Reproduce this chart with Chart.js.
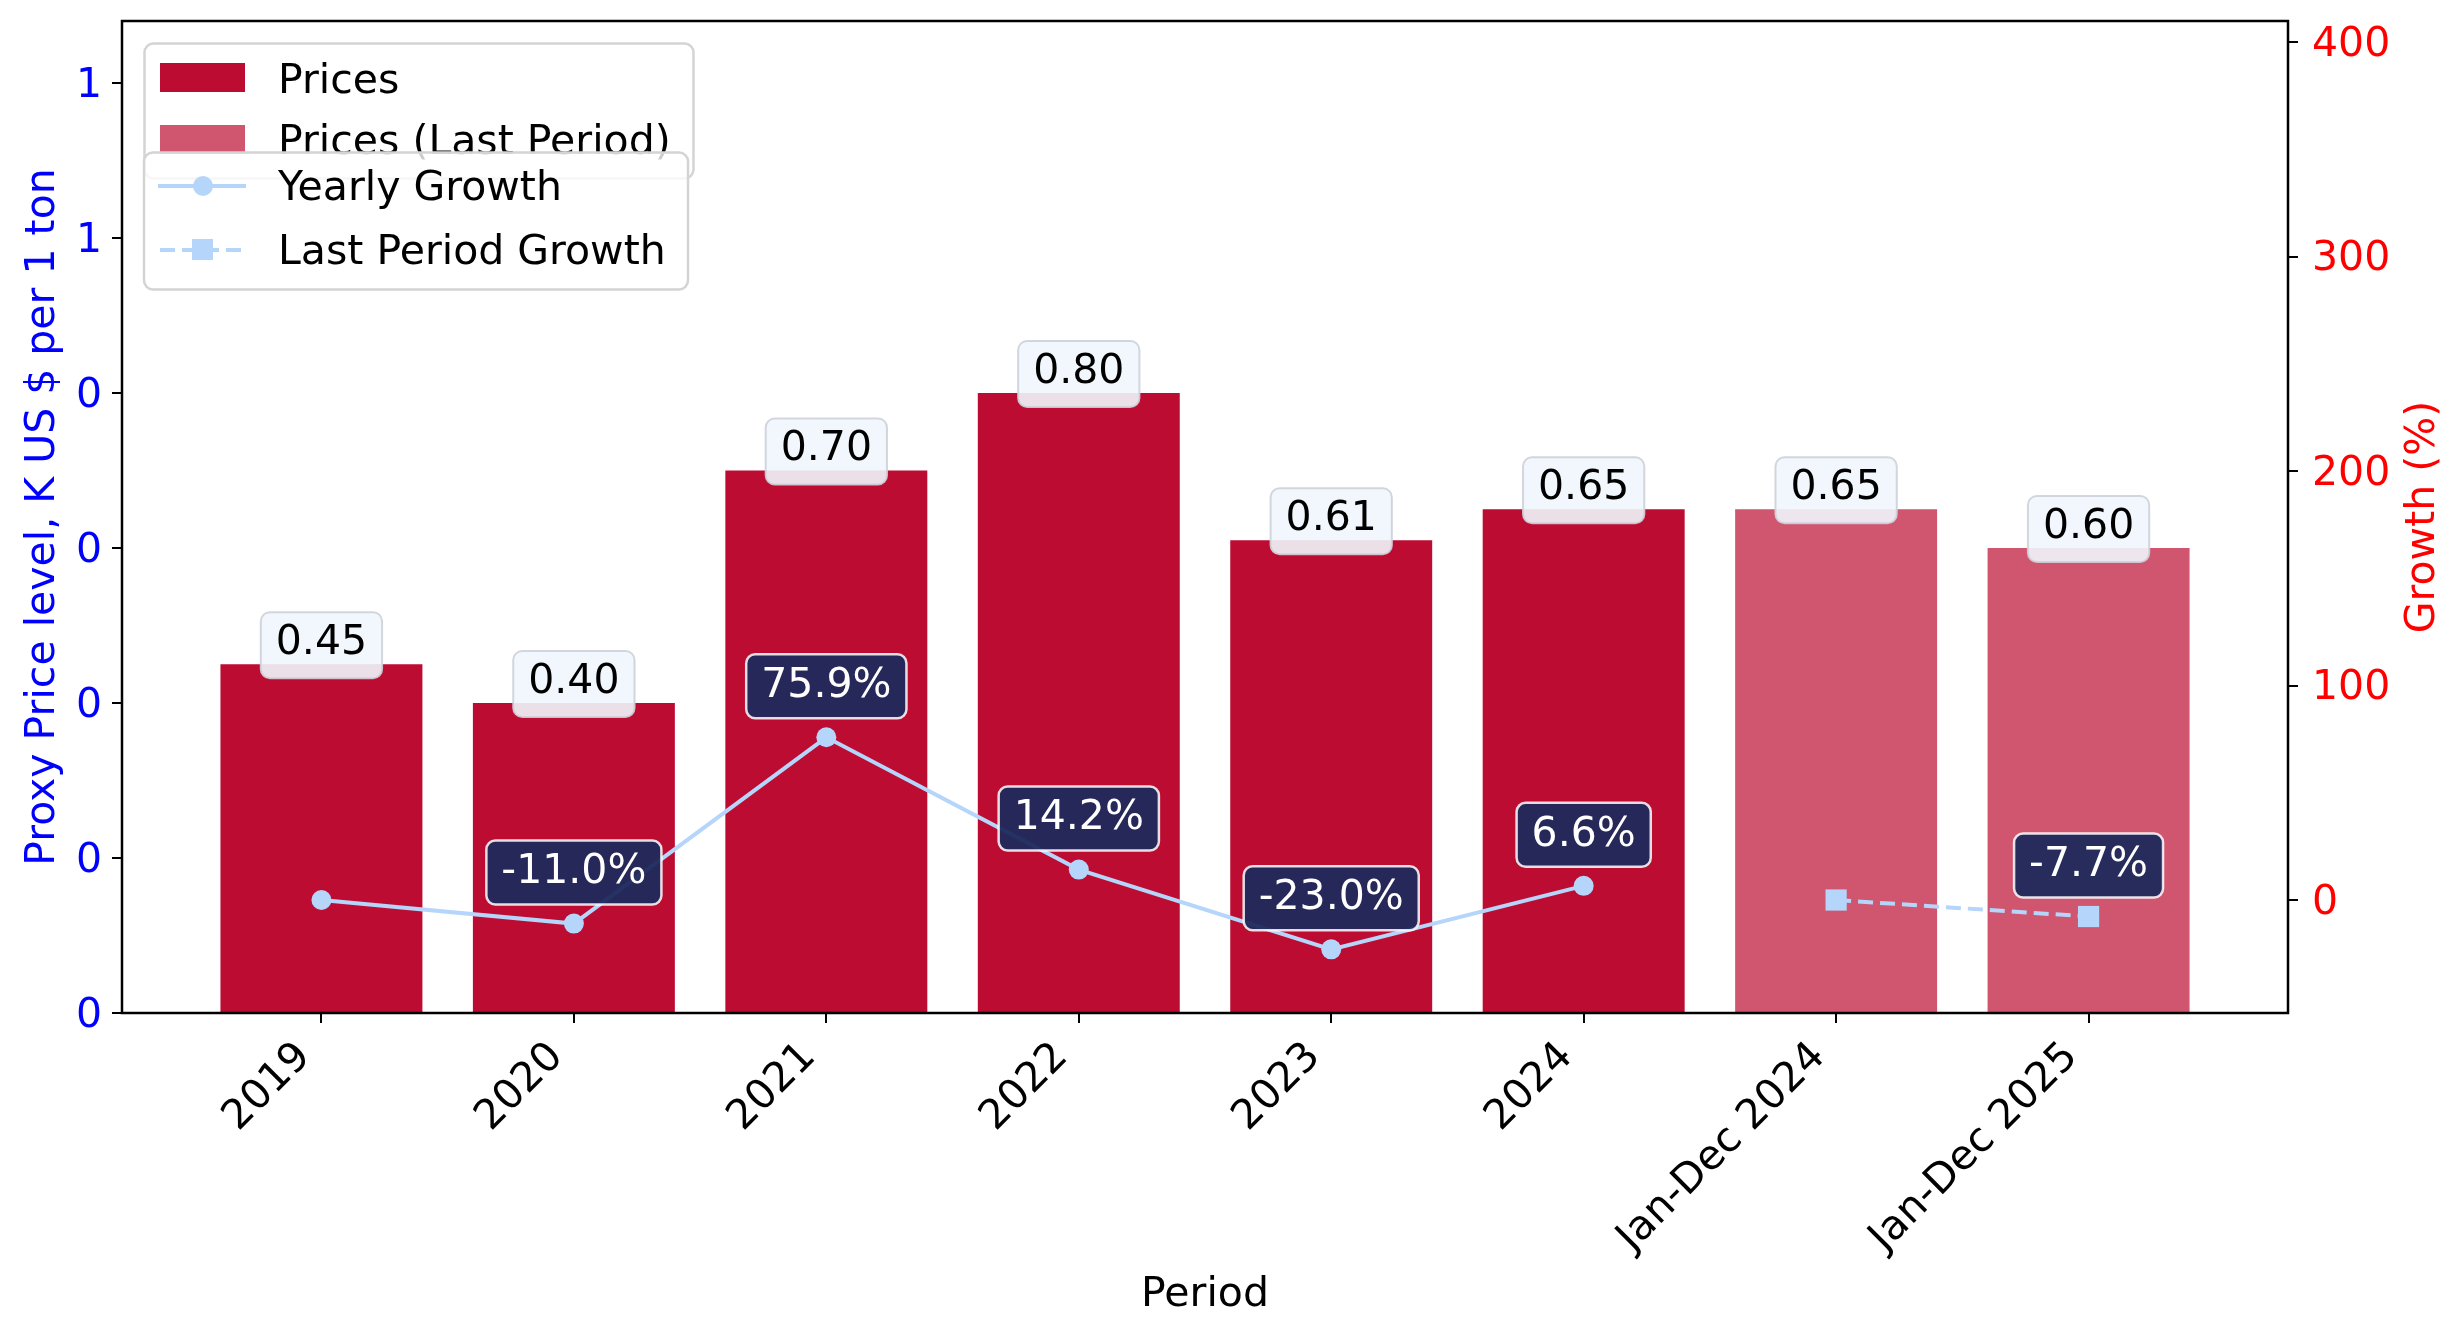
<!DOCTYPE html>
<html>
<head>
<meta charset="utf-8">
<script src="https://cdn.jsdelivr.net/npm/chart.js@4.4.0/dist/chart.umd.min.js"></script>
<style>
  html, body { margin: 0; padding: 0; background: #fff; }
  #wrap { width: 2464px; height: 1338px; }
</style>
</head>
<body>
<div id="wrap"><canvas id="canvasPrice" width="2464" height="1338"></canvas></div>
<script>
var periods = ['2019', '2020', '2021', '2022', '2023', '2024', 'Jan-Dec 2024', 'Jan-Dec 2025'];
var prices = [0.45, 0.40, 0.70, 0.80, 0.61, 0.65, null, null];
var pricesLast = [null, null, null, null, null, null, 0.65, 0.60];
var yearlyGrowth = [0, -11.0, 75.9, 14.2, -23.0, 6.6, null, null];
var lastGrowth = [null, null, null, null, null, null, 0, -7.7];
var priceTicks = [0, 0.2, 0.4, 0.6, 0.8, 1.0, 1.2];
var priceTickLabels = ['0', '0', '0', '0', '0', '1', '1'];
var growthTicks = [0, 100, 200, 300, 400];

var barColor = '#BC0C32';
var barLastColor = '#D0556F';
var lineColor = '#B5D5FA';
var FONT = '"DejaVu Sans", sans-serif';

Chart.defaults.font.family = FONT;
Chart.defaults.font.size = 41;
Chart.defaults.color = '#000';

// turn an array into {x, y} points, skipping the gaps
function points(arr) {
  var out = [];
  for (var i = 0; i < arr.length; i++) {
    if (arr[i] !== null) out.push({x: i, y: arr[i]});
  }
  return out;
}

function roundBox(ctx, cx, cy, w, h, r, fill, stroke, lw) {
  var x = cx - w / 2, y = cy - h / 2;
  ctx.beginPath();
  ctx.roundRect(x, y, w, h, r);
  ctx.fillStyle = fill;
  ctx.fill();
  if (stroke) {
    ctx.lineWidth = lw;
    ctx.strokeStyle = stroke;
    ctx.stroke();
  }
}

var labelPlugin = {
  id: 'labels',
  afterDatasetsDraw: function(chart) {
    var ctx = chart.ctx;
    var a = chart.chartArea;
    ctx.save();
    // frame
    ctx.strokeStyle = '#000';
    ctx.lineWidth = 2.5;
    ctx.strokeRect(a.left, a.top, a.right - a.left, a.bottom - a.top);

    ctx.font = '41px ' + FONT;
    ctx.textAlign = 'center';
    ctx.textBaseline = 'middle';

    // price labels on the bars
    [0, 1].forEach(function(di) {
      var meta = chart.getDatasetMeta(di);
      var data = chart.data.datasets[di].data;
      meta.data.forEach(function(bar, j) {
        var txt = data[j].y.toFixed(2);
        var w = ctx.measureText(txt).width + 30;
        var cy = bar.y - 21;
        roundBox(ctx, bar.x, cy + 2, w, 66, 9, 'rgba(240,246,252,0.9)', 'rgba(205,210,218,0.9)', 2);
        ctx.fillStyle = '#000';
        ctx.fillText(txt, bar.x, cy);
      });
    });

    // growth labels on the points
    [2, 3].forEach(function(di) {
      var meta = chart.getDatasetMeta(di);
      var data = chart.data.datasets[di].data;
      meta.data.forEach(function(pt, j) {
        var v = data[j].y;
        if (v === 0) return;
        var txt = v.toFixed(1) + '%';
        var w = ctx.measureText(txt).width + 30;
        var cy = pt.y - 51;
        roundBox(ctx, pt.x, cy, w, 64, 9, 'rgba(30,42,92,0.95)', 'rgba(255,255,255,0.85)', 2.5);
        ctx.fillStyle = '#fff';
        ctx.fillText(txt, pt.x, cy);
      });
    });
    ctx.restore();
  },
  afterDraw: function(chart) {
    var ctx = chart.ctx;
    var a = chart.chartArea;
    ctx.save();
    ctx.font = '41px ' + FONT;
    ctx.textBaseline = 'middle';

    // right axis title, read from bottom to top
    ctx.save();
    ctx.translate(2423, (a.top + a.bottom) / 2);
    ctx.rotate(-Math.PI / 2);
    ctx.textAlign = 'center';
    ctx.fillStyle = '#FF0000';
    ctx.fillText('Growth (%)', 0, 0);
    ctx.restore();

    ctx.textAlign = 'left';
    // legend of the bars
    roundBox(ctx, 419, 111, 549, 135, 9, 'rgba(255,255,255,0.8)', '#D4D4D4', 2.5);
    ctx.fillStyle = barColor;
    ctx.fillRect(160, 63, 85, 29);
    ctx.fillStyle = barLastColor;
    ctx.fillRect(160, 125, 85, 29);
    ctx.fillStyle = '#000';
    ctx.fillText('Prices', 278, 82);
    ctx.fillText('Prices (Last Period)', 278, 143);

    // legend of the growth lines
    roundBox(ctx, 416, 221, 544, 137, 9, 'rgba(255,255,255,0.8)', '#D4D4D4', 2.5);
    ctx.strokeStyle = lineColor;
    ctx.fillStyle = lineColor;
    ctx.lineWidth = 4;
    ctx.beginPath();
    ctx.moveTo(158, 186); ctx.lineTo(246, 186);
    ctx.stroke();
    ctx.beginPath();
    ctx.arc(203, 186, 10, 0, Math.PI * 2);
    ctx.fill();
    ctx.setLineDash([15, 7]);
    ctx.beginPath();
    ctx.moveTo(160, 250); ctx.lineTo(246, 250);
    ctx.stroke();
    ctx.setLineDash([]);
    ctx.fillRect(192, 239, 21, 21);
    ctx.fillStyle = '#000';
    ctx.fillText('Yearly Growth', 278, 189);
    ctx.fillText('Last Period Growth', 278, 253);
    ctx.restore();
  }
};

var chartdata = {
  datasets: [
    {
      type: 'bar',
      label: 'Prices',
      data: points(prices),
      backgroundColor: barColor,
      yAxisID: 'y',
      grouped: false,
      categoryPercentage: 0.8,
      barPercentage: 1.0,
      order: 2
    },
    {
      type: 'bar',
      label: 'Prices (Last Period)',
      data: points(pricesLast),
      backgroundColor: barLastColor,
      yAxisID: 'y',
      grouped: false,
      categoryPercentage: 0.8,
      barPercentage: 1.0,
      order: 2
    },
    {
      type: 'line',
      label: 'Yearly Growth',
      data: points(yearlyGrowth),
      borderColor: lineColor,
      backgroundColor: lineColor,
      borderWidth: 4,
      pointRadius: 10,
      pointBorderWidth: 0,
      pointStyle: 'circle',
      yAxisID: 'y1',
      order: 1
    },
    {
      type: 'line',
      label: 'Last Period Growth',
      data: points(lastGrowth),
      borderColor: lineColor,
      backgroundColor: lineColor,
      borderWidth: 4,
      borderDash: [15, 7],
      pointRadius: 15,
      pointBorderWidth: 0,
      pointStyle: 'rect',
      yAxisID: 'y1',
      order: 1
    }
  ]
};

var ctx = document.getElementById('canvasPrice');

var priceChart = new Chart(ctx, {
  data: chartdata,
  plugins: [labelPlugin],
  options: {
    responsive: false,
    animation: false,
    devicePixelRatio: 1,
    layout: { padding: { top: 21, left: 0, right: 0, bottom: 0 } },
    plugins: {
      legend: { display: false },
      tooltip: { enabled: false }
    },
    scales: {
      x: {
        type: 'linear',
        min: -0.79,
        max: 7.79,
        offset: false,
        afterBuildTicks: function(s) {
          s.ticks = periods.map(function(p, i) { return {value: i}; });
        },
        afterFit: function(s) {
          s.height = 325;
          s.paddingLeft = 0;
          s.paddingRight = 0;
        },
        grid: { offset: false, drawOnChartArea: false, drawTicks: true, tickLength: 10, color: '#000', lineWidth: 2 },
        border: { display: false },
        ticks: {
          autoSkip: false,
          maxRotation: 45,
          minRotation: 45,
          padding: 10,
          labelOffset: -17,
          color: '#000',
          font: { size: 41 },
          callback: function(v) { return periods[v]; }
        },
        title: {
          display: true,
          text: 'Period',
          color: '#000',
          font: { size: 41 },
          padding: { top: 0, bottom: 18 }
        }
      },
      y: {
        type: 'linear',
        position: 'left',
        min: 0,
        max: 1.28,
        afterBuildTicks: function(s) {
          s.ticks = priceTicks.map(function(v) { return {value: v}; });
        },
        afterFit: function(s) {
          s.width = 122;
          s.paddingTop = 0;
          s.paddingBottom = 0;
        },
        grid: { drawOnChartArea: false, drawTicks: true, tickLength: 10, color: '#000', lineWidth: 2 },
        border: { display: false },
        ticks: {
          padding: 10,
          labelOffset: 3,
          color: '#0000FF',
          font: { size: 41 },
          callback: function(v, i) { return priceTickLabels[i]; }
        },
        title: {
          display: true,
          text: 'Proxy Price level, K US $ per 1 ton',
          color: '#0000FF',
          font: { size: 41 },
          padding: { top: 19, bottom: 0 }
        }
      },
      y1: {
        type: 'linear',
        position: 'right',
        min: -52.7,
        max: 410,
        afterBuildTicks: function(s) {
          s.ticks = growthTicks.map(function(v) { return {value: v}; });
        },
        afterFit: function(s) {
          s.width = 176;
          s.paddingTop = 0;
          s.paddingBottom = 0;
        },
        grid: { drawOnChartArea: false, drawTicks: true, tickLength: 10, color: '#000', lineWidth: 2 },
        border: { display: false },
        ticks: {
          padding: 14,
          labelOffset: 3,
          color: '#FF0000',
          font: { size: 41 },
          callback: function(v) { return String(v); }
        },
        title: { display: false }
      }
    }
  }
});
</script>
</body>
</html>
